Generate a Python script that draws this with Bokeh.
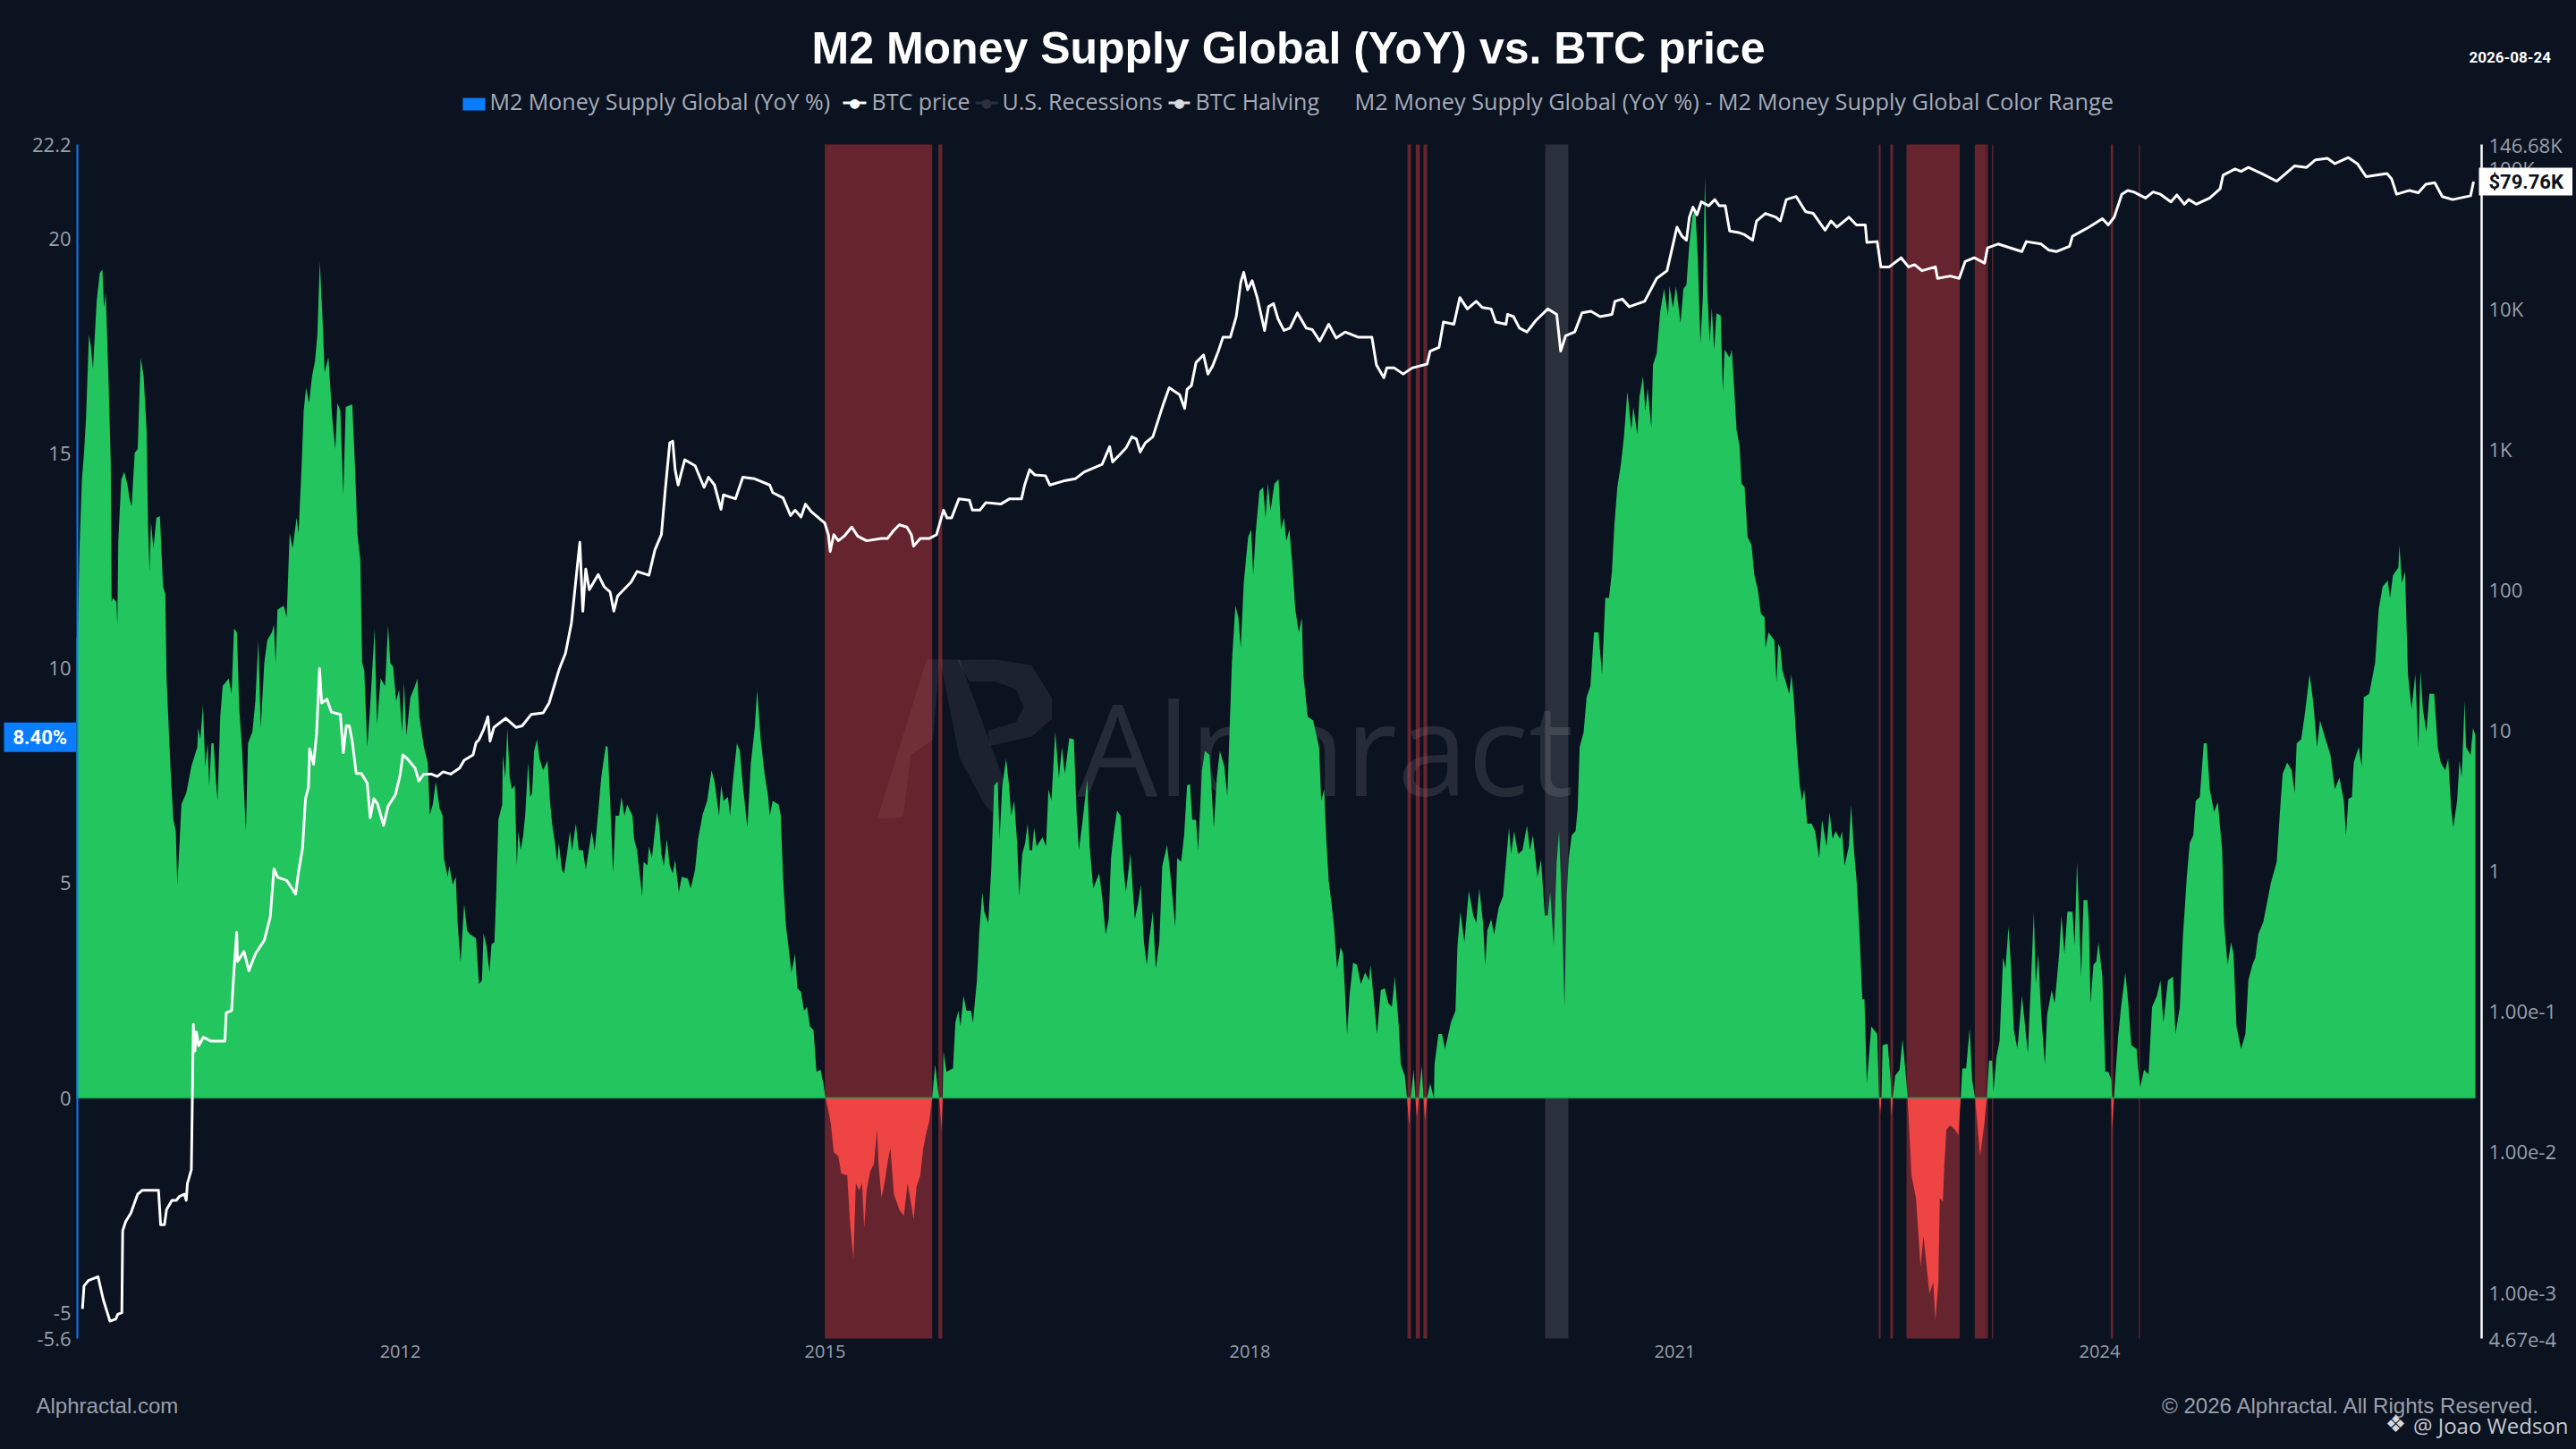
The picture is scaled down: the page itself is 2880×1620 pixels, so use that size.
from bokeh.plotting import figure
from bokeh.embed import file_html
from bokeh.resources import INLINE
from bokeh.models import (Range1d, LogScale, LogAxis, FixedTicker, Label,
                          BoxAnnotation, PolyAnnotation)
import math

BG = "#0b1220"

m2_year_a = [2009.714,2009.725,2009.735,2009.752,2009.767,2009.781,2009.802,2009.815,2009.830,2009.857,2009.878,2009.897,2009.908,2009.920,2009.941,2009.956,2009.962,2009.971,2009.996,
2010.002,2010.009,2010.030,2010.051,2010.072,2010.089,2010.103,2010.125,2010.146,2010.167,2010.188,2010.209,2010.219,2010.230,2010.240,2010.257,2010.278,2010.303,2010.325,2010.341,2010.350,2010.377,2010.398,2010.415,2010.426,2010.440,2010.455,2010.489,2010.525,2010.567,2010.573,2010.588,2010.607,2010.623,2010.640,2010.651,2010.666,2010.682,2010.699,2010.710,2010.729,2010.746,2010.788,2010.809,2010.826,2010.847,2010.863,2010.882,2010.910,2010.925,2010.956,2010.977,2010.998,
2011.015,2011.040,2011.061,2011.093,2011.108,2011.120,2011.133,2011.177,2011.198,2011.219,2011.240,2011.268,2011.282,2011.303,2011.318,2011.335,2011.356,2011.377,2011.398,2011.415,2011.432,2011.451,2011.466,2011.493,2011.520,2011.541,2011.556,2011.577,2011.598,2011.615,2011.661,2011.682,2011.697,2011.718,2011.731,2011.746,2011.767,2011.788,2011.819,2011.836,2011.861,2011.893,2011.914,2011.929,2011.950,2011.971,2011.992,
2012.013,2012.026,2012.043,2012.072,2012.104,2012.121,2012.135,2012.167,2012.194,2012.209,2012.230,2012.251,2012.278,2012.299,2012.308,2012.335,2012.346,2012.371,2012.392,2012.405,2012.426,2012.451,2012.472,2012.493,2012.535]
m2_yoy_a = [10.66,11.10,12.79,14.40,15.02,15.82,17.78,17.51,16.98,18.58,19.20,19.29,18.40,18.76,16.62,14.75,11.55,11.64,11.55,
11.01,12.97,14.40,14.58,14.31,13.95,13.77,15.02,15.11,17.24,16.80,15.55,13.33,12.26,13.42,12.79,13.51,13.54,11.91,11.73,9.77,7.72,6.48,6.21,4.97,5.86,6.84,7.10,7.72,8.17,8.62,8.35,9.15,7.72,8.26,7.28,8.26,8.26,7.37,6.92,8.88,9.59,9.77,9.42,10.93,10.84,9.06,8.17,6.21,8.26,8.53,9.24,10.66,
8.62,10.13,10.66,10.84,11.02,10.13,11.37,11.46,11.20,13.15,12.80,13.51,13.15,14.67,16.00,16.54,16.18,16.80,17.16,17.78,19.47,18.14,16.89,17.25,15.82,15.11,16.18,16.00,14.04,16.09,16.15,14.58,13.15,12.53,10.13,9.95,8.17,9.15,10.93,8.70,9.77,9.59,11.01,10.13,10.04,9.24,9.51,
8.53,9.69,8.44,9.33,9.59,9.77,8.88,8.17,7.81,6.60,6.84,7.37,6.75,6.57,5.59,5.15,5.41,4.97,5.15,4.08,3.15,4.52,3.90,3.81,3.72]

m2_year_b = [2012.556,2012.577,2012.588,2012.609,2012.630,2012.644,2012.665,2012.678,2012.693,2012.720,2012.724,2012.741,2012.756,2012.773,2012.788,2012.809,2012.823,2012.834,2012.851,2012.868,2012.882,2012.903,2012.918,2012.931,2012.945,2012.966,2012.983,
2013.009,2013.040,2013.057,2013.072,2013.093,2013.108,2013.120,2013.141,2013.156,2013.177,2013.198,2013.213,2013.240,2013.261,2013.289,2013.310,2013.331,2013.352,2013.373,2013.398,2013.419,2013.451,2013.465,2013.482,2013.503,2013.520,2013.545,2013.562,2013.583,2013.602,2013.640,2013.651,2013.672,2013.708,2013.718,2013.745,2013.756,2013.777,2013.813,2013.830,2013.844,2013.861,2013.882,2013.903,2013.924,2013.941,2013.967,2013.988,
2014.030,2014.051,2014.082,2014.103,2014.135,2014.167,2014.198,2014.219,2014.251,2014.266,2014.283,2014.314,2014.329,2014.346,2014.377,2014.398,2014.419,2014.451,2014.476,2014.503,2014.520,2014.545,2014.573,2014.598,2014.609,2014.630,2014.672,2014.687,2014.703,2014.724,2014.741,2014.762,2014.788,2014.804,2014.830,2014.851,2014.872,2014.893,2014.918,2014.939,2014.967,2014.988,
2015.002,2015.019,2015.040,2015.061,2015.093,2015.114,2015.156,2015.177,2015.200,2015.217,2015.240,2015.261,2015.276,2015.293,2015.318,2015.345,2015.367,2015.377,2015.398]
m2_yoy_b = [2.65,2.74,3.84,3.54,2.92,3.58,3.63,4.79,6.48,6.83,7.99,7.46,8.61,7.46,7.19,7.28,5.41,6.21,5.77,6.12,6.57,7.81,7.01,7.10,8.08,8.35,7.90,
7.63,7.85,6.92,6.39,5.94,5.50,5.94,5.32,5.23,5.68,6.21,5.77,6.39,5.77,5.77,5.32,5.77,6.21,5.77,6.66,7.46,8.20,8.17,6.92,5.23,6.57,6.57,7.01,6.57,6.83,6.57,6.03,5.77,4.70,5.50,5.41,5.86,5.59,6.66,6.30,5.68,5.41,6.03,5.41,5.23,5.54,4.79,5.15,
5.11,4.88,5.32,6.03,6.60,6.92,7.63,7.37,6.57,7.28,6.92,7.01,6.57,7.28,8.26,8.08,7.28,6.30,7.81,8.61,9.50,8.35,7.54,7.01,6.57,6.92,6.83,6.57,5.14,3.99,3.54,2.92,3.36,2.56,2.47,2.03,2.12,1.67,1.58,0.61,0.66,0.34,
0,-0.23,-0.59,-1.26,-1.35,-1.76,-1.80,-2.95,-3.75,-1.98,-2.15,-1.98,-3.04,-2.15,-1.71,-1.53,-0.73,-1.53,-2.33]

m2_year_c = [2015.419,2015.444,2015.461,2015.486,2015.524,2015.556,2015.583,2015.609,2015.625,2015.646,2015.672,2015.693,2015.714,2015.735,2015.756,2015.777,2015.798,2015.806,2015.823,2015.830,2015.836,2015.857,2015.903,2015.920,2015.941,2015.956,2015.977,2015.998,
2016.030,2016.044,2016.072,2016.089,2016.110,2016.124,2016.152,2016.173,2016.194,2016.219,2016.232,2016.251,2016.278,2016.299,2016.314,2016.335,2016.356,2016.371,2016.392,2016.413,2016.430,2016.444,2016.461,2016.476,2016.493,2016.535,2016.560,2016.577,2016.598,2016.625,2016.651,2016.672,2016.693,2016.724,2016.756,2016.777,2016.792,2016.819,2016.851,2016.868,2016.893,2016.935,2016.956,2016.981,
2017.002,2017.019,2017.040,2017.061,2017.086,2017.108,2017.124,2017.156,2017.187,2017.209,2017.230,2017.251,2017.272,2017.289,2017.314,2017.335,2017.360,2017.381,2017.415,2017.440,2017.472,2017.486,2017.514,2017.535,2017.556,2017.577,2017.592,2017.619,2017.634,2017.661,2017.682,2017.714,2017.745,2017.766,2017.787,2017.819,2017.840,2017.872,2017.897,2017.918,2017.935,2017.956,2017.987,
2018.009,2018.023,2018.040,2018.067,2018.093,2018.110,2018.126,2018.145,2018.173,2018.202,2018.219,2018.240]
m2_yoy_c = [-1.98,-1.44,-1.17,-2.24,-2.60,-2.74,-1.98,-2.51,-2.83,-2.06,-1.80,-1.17,-0.82,-0.55,0,0.78,0.16,0,-0.77,0,1.09,0.61,0.69,1.76,2.03,1.67,2.38,2.03,
2.03,1.76,2.74,3.90,4.79,4.34,4.08,5.32,7.28,7.37,6.03,7.28,7.90,7.28,6.57,6.92,5.94,4.70,5.68,5.94,6.39,5.77,5.77,6.30,5.86,6.07,5.86,7.19,6.92,8.53,7.46,8.17,7.55,8.38,8.35,6.57,5.77,6.48,7.42,5.86,4.88,5.23,4.70,3.81,
4.16,5.59,6.21,6.69,6.57,5.32,4.79,5.68,4.16,4.52,4.97,3.63,3.10,3.72,4.34,3.01,3.63,5.41,5.89,5.14,3.99,5.59,5.50,6.12,7.28,7.31,6.48,6.48,5.77,7.63,8.08,7.99,6.30,7.46,8.08,7.72,7.01,10.12,11.46,11.19,10.48,11.99,13.06,
13.24,12.17,13.15,14.13,14.22,13.51,14.31,13.68,14.31,14.40,13.24,13.51]

m2_year_d = [2018.257,2018.278,2018.299,2018.320,2018.345,2018.366,2018.377,2018.408,2018.446,2018.488,2018.503,2018.524,2018.539,2018.556,2018.573,2018.594,2018.615,2018.640,2018.657,2018.686,2018.703,2018.728,2018.756,2018.783,2018.813,2018.840,2018.851,2018.872,2018.897,2018.924,2018.952,2018.977,
2019.002,2019.023,2019.051,2019.065,2019.093,2019.109,2019.124,2019.135,2019.156,2019.168,2019.179,2019.192,2019.213,2019.225,2019.236,2019.251,2019.272,2019.299,2019.303,2019.331,2019.356,2019.377,2019.419,2019.451,2019.465,2019.486,2019.514,2019.545,2019.577,2019.598,2019.619,2019.646,2019.661,2019.676,2019.703,2019.724,2019.756,2019.787,2019.808,2019.829,2019.844,2019.865,2019.893,2019.924,2019.956,2019.977,2019.998,
2020.030,2020.055,2020.082,2020.103,2020.120,2020.145,2020.166,2020.183,2020.202,2020.221,2020.236,2020.251,2020.272,2020.299,2020.314,2020.328,2020.356,2020.377,2020.404,2020.429,2020.461,2020.486,2020.509,2020.535,2020.556,2020.573,2020.594,2020.619,2020.640,2020.665,2020.693,2020.707,2020.735,2020.750,2020.775,2020.792,2020.808,2020.834,2020.846,2020.872,2020.897,2020.924,2020.952,2020.962,2020.987,
2021.008,2021.040,2021.061,2021.082]
m2_yoy_d = [12.97,13.24,12.44,11.37,10.84,11.19,9.86,8.88,8.79,8.17,6.92,7.19,6.03,5.05,4.61,3.99,3.01,3.51,3.36,1.49,2.38,3.15,3.10,2.65,2.92,2.74,3.10,2.38,1.49,2.51,2.56,2.21,
2.12,2.83,1.67,0.78,0.52,0,-0.64,0,0.66,0,-0.46,0,0.75,0,-0.52,0,0.34,0,0.78,1.49,1.49,1.14,1.76,2.03,3.54,4.34,3.63,4.82,4.25,4.08,4.88,4.08,3.10,3.90,4.16,3.81,4.43,4.70,5.50,6.30,5.68,6.21,5.68,5.77,6.34,5.77,6.12,
5.14,5.55,4.25,4.25,4.79,3.54,5.50,6.21,4.43,2.12,4.70,5.59,6.12,6.21,6.74,8.17,8.52,9.33,9.59,10.84,10.84,9.86,11.64,11.64,12.26,13.33,14.22,14.75,15.37,16.45,15.55,16.09,15.46,16.32,16.80,16.00,16.53,15.61,17.07,17.33,18.31,18.84,18.22,18.90,18.40,
18.90,18.04,18.84,18.93]

m2_year_e = [2021.103,2021.124,2021.145,2021.162,2021.181,2021.198,2021.213,2021.229,2021.246,2021.261,2021.278,2021.293,2021.324,2021.339,2021.351,2021.387,2021.402,2021.419,2021.436,2021.457,2021.471,2021.493,2021.514,2021.541,2021.562,2021.587,2021.608,2021.634,2021.640,2021.661,2021.703,2021.718,2021.730,2021.745,2021.760,2021.808,2021.823,2021.840,2021.861,2021.882,2021.899,2021.914,2021.935,2021.966,2021.991,
2022.019,2022.040,2022.071,2022.093,2022.114,2022.135,2022.166,2022.181,2022.198,2022.229,2022.244,2022.265,2022.286,2022.303,2022.324,2022.339,2022.356,2022.387,2022.429,2022.442,2022.450,2022.459,2022.467,2022.503,2022.524,2022.530,2022.539,2022.556,2022.587,2022.608,2022.629,2022.644,2022.671,2022.703,2022.735,2022.756,2022.798,2022.825,2022.840,2022.861,2022.871,2022.893,2022.903,2022.918,2022.945,2022.977,
2023.002,2023.019,2023.030,2023.057,2023.082,2023.099,2023.120,2023.156,2023.187,2023.198,2023.204,2023.219,2023.240,2023.250,2023.271,2023.293,2023.318,2023.335,2023.356,2023.373,2023.394,2023.419,2023.451,2023.465,2023.493,2023.514,2023.535,2023.549,2023.566,2023.587,2023.613,2023.629,2023.661,2023.682,2023.714,2023.730,2023.751,2023.772,2023.808,2023.823,2023.840,2023.857,2023.869,2023.886,2023.913,2023.924]
m2_yoy_e = [19.91,20.53,20.71,19.55,17.56,18.67,21.47,18.84,17.60,18.40,17.42,18.27,18.22,16.44,17.42,17.24,17.42,16.53,15.55,15.19,14.31,14.22,13.06,12.88,12.17,11.82,11.28,11.19,10.48,10.84,10.66,9.68,10.57,10.48,9.95,9.41,9.86,9.32,8.17,7.28,6.92,7.19,6.39,6.39,6.21,
5.59,6.48,5.86,6.66,6.03,6.21,6.03,6.21,5.41,5.86,6.83,5.77,4.97,3.90,2.30,2.30,0.34,1.67,1.49,0,-0.37,0,1.23,1.26,0.43,-0.41,0,0.52,0.66,1.37,0.61,0,-1.80,-2.33,-3.93,-3.22,-4.56,-4.29,-5.18,-4.29,-2.33,-2.42,-1.53,-0.73,-0.64,-0.73,
-0.87,0,0.69,0.69,1.62,0.43,0,-1.35,-0.55,-0.16,0,0.87,0.87,0.16,0.96,1.32,3.27,3.01,3.99,3.10,1.58,1.14,2.38,1.94,1.05,2.65,4.34,2.65,3.36,1.94,0.78,1.94,2.51,2.21,3.36,4.25,3.36,4.34,4.34,3.54,5.50,4.08,2.83,4.61,4.61,4.08]

m2_year_f = [2023.935,2023.956,2023.977,2023.991,2024.019,2024.040,2024.061,2024.082,2024.088,2024.101,2024.109,2024.130,2024.151,2024.181,2024.202,2024.223,2024.261,2024.271,2024.286,2024.313,2024.345,2024.370,2024.404,2024.429,2024.450,2024.482,2024.518,2024.535,2024.566,2024.587,2024.615,2024.636,2024.661,2024.678,2024.707,2024.735,2024.756,2024.777,2024.808,2024.834,2024.865,2024.878,2024.903,2024.928,2024.945,2024.966,2024.998,
2025.029,2025.050,2025.078,2025.099,2025.120,2025.156,2025.177,2025.208,2025.250,2025.271,2025.292,2025.324,2025.356,2025.377,2025.391,2025.423,2025.450,2025.482,2025.507,2025.535,2025.556,2025.587,2025.629,2025.661,2025.693,2025.724,2025.739,2025.756,2025.781,2025.794,2025.829,2025.850,2025.865,2025.903,2025.945,2025.970,2025.998,
2026.034,2026.050,2026.071,2026.109,2026.116,2026.135,2026.156,2026.177,2026.202,2026.229,2026.250,2026.265,2026.282,2026.307,2026.328,2026.362,2026.387,2026.408,2026.440,2026.461,2026.482,2026.497,2026.524,2026.541,2026.556,2026.577,2026.587,2026.619,2026.636,2026.653]
m2_yoy_f = [2.21,3.10,3.19,3.63,2.83,0.61,0.61,0.43,-0.73,0,0.43,1.41,2.12,2.92,2.21,1.23,1.14,0.69,0.25,0.66,0.55,2.12,2.38,2.74,1.76,2.74,2.83,1.49,2.12,3.72,5.14,5.94,6.12,6.92,7.01,8.26,8.26,7.19,6.66,6.89,5.77,4.08,3.10,3.63,3.36,1.67,1.14,
1.49,2.74,3.10,3.27,3.81,4.11,4.47,5.00,5.50,6.57,7.55,7.81,7.63,7.10,8.26,8.35,8.97,9.86,9.24,8.17,8.79,8.44,7.99,7.19,7.46,6.92,6.12,6.96,7.01,7.81,8.17,7.72,9.33,9.41,10.13,11.37,11.91,
12.05,11.64,12.17,12.35,12.88,11.99,12.26,9.86,9.06,9.86,8.17,9.95,9.06,8.52,9.41,9.41,8.17,7.81,7.63,7.90,6.74,6.30,6.92,7.85,7.46,9.24,8.17,7.99,8.61,8.44]

btc_year_a = [2009.756,2009.767,2009.798,2009.866,2009.903,2009.950,2009.992,2010.005,2010.034,2010.040,2010.061,2010.097,2010.146,2010.177,2010.293,2010.308,2010.335,2010.350,2010.388,2010.419,2010.440,2010.476,2010.489,2010.497,2010.525,2010.531,2010.539,2010.550,2010.560,2010.577,2010.609,2010.661,2010.762,2010.771,2010.809,2010.826,2010.845,2010.851,2010.897,2010.931,2010.977,2011.040,2011.082,2011.108,2011.135,2011.198,2011.234,2011.261,2011.282,2011.310,2011.331,2011.352,2011.360,2011.388,2011.409,2011.430,2011.445,2011.482,2011.514,2011.577,2011.598,2011.619,2011.640,2011.661,2011.689,2011.725,2011.767,2011.788,2011.813,2011.840,2011.882,2011.914,2011.966,2011.998,2012.019,2012.051,2012.104,2012.131,2012.167,2012.219,2012.261,2012.303,2012.356,2012.419,2012.451,2012.514,2012.535,2012.556]
btc_log10_a = [-3.120,-2.956,-2.918,-2.891,-3.054,-3.207,-3.191,-3.158,-3.147,-2.564,-2.499,-2.439,-2.303,-2.276,-2.276,-2.521,-2.521,-2.412,-2.347,-2.347,-2.320,-2.303,-2.347,-2.227,-2.129,-1.693,-1.095,-1.285,-1.149,-1.247,-1.187,-1.214,-1.214,-1.013,-0.997,-0.714,-0.441,-0.648,-0.577,-0.714,-0.594,-0.496,-0.332,0.011,-0.049,-0.071,-0.126,-0.169,-0.006,0.158,0.511,0.593,0.865,0.756,0.974,1.437,1.192,1.219,1.127,1.110,0.838,1.029,1.029,0.920,0.691,0.691,0.620,0.375,0.511,0.473,0.321,0.457,0.539,0.675,0.822,0.794,0.729,0.637,0.686,0.686,0.669,0.702,0.686,0.729,0.784,0.822,0.909,0.931]

btc_year_b = [2012.588,2012.619,2012.634,2012.661,2012.745,2012.819,2012.861,2012.924,2013.009,2013.051,2013.124,2013.167,2013.209,2013.251,2013.268,2013.289,2013.310,2013.335,2013.398,2013.440,2013.482,2013.508,2013.535,2013.630,2013.672,2013.756,2013.798,2013.844,2013.872,2013.903,2013.924,2013.941,2013.962,2014.009,2014.082,2014.145,2014.177,2014.219,2014.265,2014.282,2014.367,2014.419,2014.503,2014.609,2014.630,2014.703,2014.756,2014.788,2014.830,2014.861,2014.903,2014.998,2015.023,2015.036,2015.061,2015.093,2015.135,2015.188,2015.230,2015.293,2015.398]
btc_log10_b = [1.001,1.094,0.920,1.018,1.083,1.018,1.029,1.110,1.121,1.192,1.437,1.546,1.763,2.172,2.335,1.845,2.145,1.998,2.106,2.019,1.981,1.845,1.954,2.052,2.128,2.101,2.281,2.390,2.716,3.043,3.054,2.852,2.743,2.923,2.880,2.727,2.798,2.743,2.569,2.673,2.645,2.798,2.787,2.743,2.689,2.651,2.526,2.564,2.515,2.607,2.553,2.471,2.390,2.270,2.390,2.346,2.379,2.444,2.379,2.346,2.362]

btc_year_c = [2015.440,2015.482,2015.524,2015.577,2015.609,2015.625,2015.672,2015.735,2015.787,2015.836,2015.861,2015.893,2015.945,2016.019,2016.040,2016.093,2016.135,2016.240,2016.303,2016.387,2016.409,2016.444,2016.482,2016.556,2016.587,2016.682,2016.766,2016.830,2016.956,2017.009,2017.030,2017.082,2017.124,2017.166,2017.198,2017.225,2017.261,2017.314,2017.387,2017.430,2017.503,2017.539,2017.556,2017.587,2017.619,2017.672,2017.703,2017.735,2017.777,2017.809,2017.861,2017.903,2017.935,2017.956,2017.983,2018.015,2018.051,2018.103,2018.131,2018.166,2018.198,2018.240]
btc_log10_c = [2.362,2.417,2.460,2.444,2.390,2.308,2.362,2.362,2.390,2.564,2.509,2.509,2.645,2.635,2.564,2.564,2.618,2.607,2.645,2.645,2.743,2.852,2.814,2.809,2.743,2.771,2.787,2.836,2.890,3.016,2.907,2.961,3.005,3.086,3.070,2.978,3.043,3.086,3.315,3.435,3.386,3.288,3.424,3.451,3.614,3.669,3.533,3.587,3.696,3.794,3.794,3.941,4.186,4.257,4.132,4.197,4.077,3.843,4.012,4.034,3.925,3.843]

btc_year_d = [2018.282,2018.335,2018.398,2018.440,2018.493,2018.556,2018.608,2018.672,2018.766,2018.861,2018.893,2018.945,2018.966,2019.019,2019.082,2019.145,2019.251,2019.272,2019.335,2019.366,2019.440,2019.482,2019.535,2019.598,2019.640,2019.703,2019.735,2019.808,2019.819,2019.861,2019.903,2019.956,2020.019,2020.103,2020.166,2020.194,2020.229,2020.293,2020.345,2020.408,2020.472,2020.556,2020.577,2020.629,2020.678,2020.787,2020.872,2020.945,2021.015,2021.051,2021.082]
btc_log10_d = [3.859,3.968,3.859,3.849,3.767,3.887,3.789,3.832,3.794,3.794,3.598,3.506,3.576,3.576,3.533,3.576,3.604,3.696,3.723,3.903,3.887,4.077,3.996,4.050,4.006,3.996,3.903,3.887,3.957,3.941,3.859,3.832,3.914,3.996,3.957,3.696,3.805,3.832,3.968,3.979,3.941,3.957,4.050,4.066,4.012,4.050,4.213,4.268,4.578,4.513,4.485]

btc_year_e = [2021.103,2021.128,2021.156,2021.187,2021.240,2021.282,2021.314,2021.356,2021.387,2021.450,2021.493,2021.549,2021.577,2021.640,2021.714,2021.745,2021.787,2021.857,2021.924,2021.977,2022.061,2022.103,2022.145,2022.229,2022.282,2022.345,2022.356,2022.429,2022.455,2022.514,2022.598,2022.650,2022.693,2022.745,2022.840,2022.855,2022.945,2023.008,2023.050,2023.114,2023.187,2023.208,2023.282,2023.366,2023.450,2023.482,2023.587,2023.640,2023.693,2023.787,2023.808,2023.924]
btc_log10_e = [4.649,4.720,4.665,4.758,4.730,4.774,4.730,4.730,4.551,4.540,4.524,4.485,4.622,4.676,4.649,4.622,4.774,4.796,4.687,4.676,4.556,4.622,4.578,4.649,4.594,4.594,4.469,4.475,4.295,4.295,4.360,4.295,4.311,4.268,4.295,4.213,4.230,4.213,4.333,4.360,4.322,4.431,4.458,4.431,4.404,4.475,4.458,4.415,4.404,4.442,4.513,4.578]

btc_year_f = [2024.019,2024.061,2024.103,2024.156,2024.198,2024.240,2024.324,2024.377,2024.429,2024.503,2024.545,2024.598,2024.629,2024.682,2024.777,2024.850,2024.871,2024.956,2024.998,2025.050,2025.145,2025.250,2025.313,2025.377,2025.461,2025.524,2025.608,2025.661,2025.756,2025.819,2025.882,2026.029,2026.061,2026.097,2026.187,2026.250,2026.303,2026.366,2026.419,2026.492,2026.619,2026.640]
btc_log10_f = [4.638,4.594,4.649,4.812,4.839,4.828,4.785,4.828,4.812,4.758,4.807,4.741,4.774,4.741,4.785,4.850,4.948,4.992,4.975,5.003,4.959,4.905,4.959,5.014,5.003,5.057,5.068,5.030,5.073,5.030,4.937,4.959,4.921,4.812,4.839,4.823,4.883,4.894,4.796,4.774,4.801,4.902]

recession_red_start = [2014.998,2015.800,2019.112,2019.171,2019.225,2022.440,2022.522,2022.636,2023.118,2023.198,2023.240,2024.078,2024.276]
recession_red_end   = [2015.756,2015.827,2019.137,2019.200,2019.251,2022.453,2022.541,2023.012,2023.196,2023.210,2023.248,2024.095,2024.284]
recession_us_start = [2020.084]
recession_us_end   = [2020.248]

year_ticks = [2012, 2015, 2018, 2021, 2024]
left_ticks = [-5.6, -5, 0, 5, 10, 15, 20, 22.2]
right_ticks = [4.67e-4, 1e-3, 1e-2, 1e-1, 1, 10, 100, 1000, 10000, 100000, 146680]
right_labels = ["4.67e-4", "1.00e-3", "1.00e-2", "1.00e-1", "1", "10", "100", "1K", "10K", "100K", "146.68K"]
last_m2 = 8.40
last_btc = 79760.0

m2_year = m2_year_a + m2_year_b + m2_year_c + m2_year_d + m2_year_e + m2_year_f
m2_yoy = m2_yoy_a + m2_yoy_b + m2_yoy_c + m2_yoy_d + m2_yoy_e + m2_yoy_f
btc_year = btc_year_a + btc_year_b + btc_year_c + btc_year_d + btc_year_e + btc_year_f
btc_price = [10 ** v for v in btc_log10_a + btc_log10_b + btc_log10_c + btc_log10_d + btc_log10_e + btc_log10_f]

TICK = "#9aa0ac"
FONT = "Open Sans"
W, H = 2876, 1616
PX_L, PX_R, PX_T, PX_B = 86, 2774, 161, 1496     # where the axes sit on the page
X0, X1 = 2009.72, 2026.697
Y0, Y1 = -5.6, 22.2
LOG0, LOG1 = 4.67e-4, 146680
# The frame fills the page so that annotations are not clipped; the axes are pinned inside it.
sx = (X1 - X0) / (PX_R - PX_L)
sy = (Y1 - Y0) / (PX_B - PX_T)
sl = (math.log10(LOG1) - math.log10(LOG0)) / (PX_B - PX_T)

p = figure(width=W, height=H, output_backend="svg", toolbar_location=None,
           x_range=Range1d(X0 - PX_L * sx, X1 + (W - PX_R) * sx),
           y_range=Range1d(Y0 - (H - PX_B) * sy, Y1 + PX_T * sy),
           background_fill_color=BG, border_fill_color=BG, outline_line_color=None,
           min_border_left=0, min_border_right=0, min_border_top=0, min_border_bottom=0,
           x_axis_location="below", y_axis_location="left")
p.grid.visible = False
p.extra_y_ranges = {"btc": Range1d(10 ** (math.log10(LOG0) - (H - PX_B) * sl), 10 ** (math.log10(LOG1) + PX_T * sl))}
p.extra_y_scales = {"btc": LogScale()}

ax = p.xaxis[0]
ax.fixed_location = Y0
ax.ticker = FixedTicker(ticks=year_ticks)
ax.major_label_overrides = {y: str(y) for y in year_ticks}
ax.axis_line_color = None
ax.major_tick_line_color = None
ax.major_tick_out = 0
ax.minor_tick_line_color = None
ax.major_label_standoff = 7
ax.major_label_text_color = TICK
ax.major_label_text_font = FONT
ax.major_label_text_font_size = "20px"

ay = p.yaxis[0]
ay.fixed_location = X0
ay.bounds = (Y0, Y1)
ay.ticker = FixedTicker(ticks=left_ticks)
ay.major_label_overrides = {float(t): ("%g" % t) for t in left_ticks}
ay.axis_line_color = "#0a7cff"
ay.axis_line_width = 2
ay.major_tick_line_color = None
ay.major_tick_out = 0
ay.minor_tick_line_color = None
ay.major_label_standoff = 7
ay.major_label_text_color = TICK
ay.major_label_text_font = FONT
ay.major_label_text_font_size = "22px"

ar = LogAxis(y_range_name="btc", ticker=FixedTicker(ticks=right_ticks), fixed_location=X1, bounds=(LOG0, LOG1))
ar.major_label_overrides = {t: l for t, l in zip(right_ticks, right_labels)}
ar.axis_line_color = "#ffffff"
ar.axis_line_width = 2.5
ar.major_tick_line_color = None
ar.major_tick_out = 0
ar.minor_tick_line_color = None
ar.major_label_standoff = 8
ar.major_label_text_color = TICK
ar.major_label_text_font = FONT
ar.major_label_text_font_size = "22px"
p.add_layout(ar, "right")

# watermark (behind everything)
def wm_poly(pts):
    xs = [900 + a / 1.742 for a, b in pts]
    ys = [700 + b / 3 for a, b in pts]
    p.add_layout(PolyAnnotation(xs=xs, ys=ys, xs_units="canvas", ys_units="canvas",
                                fill_color="#ffffff", fill_alpha=0.07, line_color=None, level="underlay"))
wm_poly([(140, 645), (236, 110), (262, 110), (248, 380), (205, 430), (190, 640)])
wm_poly([(262, 110), (300, 110), (385, 510), (365, 625), (350, 600), (300, 440)])
wm_poly([(295, 112), (370, 110), (440, 130), (480, 240), (480, 310), (440, 370), (360, 400), (355, 350), (410, 320), (425, 270), (410, 210), (370, 185), (320, 185)])
p.add_layout(Label(x=1204, y=834, x_units="canvas", y_units="canvas", text="Alphractal",
                   text_font=FONT, text_font_size="142px", text_color="#ffffff", text_alpha=0.11,
                   text_baseline="middle", level="underlay"))

p.quad(left=recession_red_start, right=recession_red_end, bottom=Y0, top=Y1,
       fill_color="#ef4444", fill_alpha=0.4, line_color=None)
p.quad(left=recession_us_start, right=recession_us_end, bottom=Y0, top=Y1,
       fill_color="#ffffff", fill_alpha=0.13, line_color=None)

zeros = [0.0] * len(m2_year)
p.varea(x=m2_year, y1=zeros, y2=[max(v, 0) for v in m2_yoy], fill_color="#22c55e")
p.varea(x=m2_year, y1=zeros, y2=[min(v, 0) for v in m2_yoy], fill_color="#ef4444")
p.line(x=m2_year, y=zeros, line_color="#1f9d55", line_width=1.5)

p.line(x=btc_year, y=btc_price, y_range_name="btc", line_color="#ffffff", line_width=3, line_join="round")

def text(x, y, s, size, color, font=FONT, style="normal", align="left", **kw):
    p.add_layout(Label(x=x, y=y, x_units="canvas", y_units="canvas", text=s,
                       text_font=font, text_font_size=size, text_color=color, text_font_style=style,
                       text_align=align, text_baseline="middle", **kw))

text(1440, 53, "M2 Money Supply Global (YoY) vs. BTC price", "50px", "#ffffff", "Liberation Sans", "bold", "center")
text(2760, 63, "2026-08-24", "17px", "#ffffff", "Roboto", "bold")

LEG = "#a6abb8"
LS = "25px"
text(547, 112, "M2 Money Supply Global (YoY %)", LS, LEG)
text(974, 112, "BTC price", LS, LEG)
text(1120, 112, "U.S. Recessions", LS, LEG)
text(1336, 112, "BTC Halving", LS, LEG)
text(1514, 112, "M2 Money Supply Global (YoY %) - M2 Money Supply Global Color Range", "25.3px", LEG)

def box(l, r, t, b, color):
    p.add_layout(BoxAnnotation(left=l, right=r, top=t, bottom=b,
                               left_units="canvas", right_units="canvas", top_units="canvas", bottom_units="canvas",
                               fill_color=color, fill_alpha=1.0, line_color=None))
box(517, 542, 109, 123, "#0a7cff")
for l, r, c in [(942, 968, "#ffffff"), (1090, 1115, "#2a303c"), (1306, 1330, "#d8dbe0")]:
    box(l, r, 113, 116, c)
    text((l + r) / 2, 114, "\u25cf", "14px", c, "DejaVu Sans", "normal", "center")

text(40, 1571, "Alphractal.com", "24px", "#9aa0ac", "Liberation Sans")
text(2840, 1571, "\u00a9 2026 Alphractal. All Rights Reserved.", "24.1px", "#9aa0ac", "Liberation Sans", "normal", "right")
text(2678, 1591, "\u2756", "26px", "#d5d8de", "DejaVu Sans", "normal", "center")
text(2871, 1593, "@ Joao Wedson", "24px", "#c5c9d1", "Open Sans", "normal", "right")

# value badges, placed by the axes' own scales
p.add_layout(Label(x=4, x_units="canvas", y=last_m2, y_units="data", text="8.40%",
                   text_font="Roboto", text_font_style="bold", text_font_size="22px", text_color="#ffffff",
                   text_baseline="middle", background_fill_color="#0a7cff", padding=(10, 4)))
p.add_layout(Label(x=2771, x_units="canvas", y=last_btc, y_units="data", y_range_name="btc", text="$79.76K",
                   text_font="Roboto", text_font_style="bold", text_font_size="22px", text_color=BG,
                   text_baseline="middle", background_fill_color="#ffffff", padding=(11, 3)))

open("out.html", "w").write(file_html(p, INLINE).replace("<head>", "<head><style>html,body{background:%s}</style>" % BG, 1))
